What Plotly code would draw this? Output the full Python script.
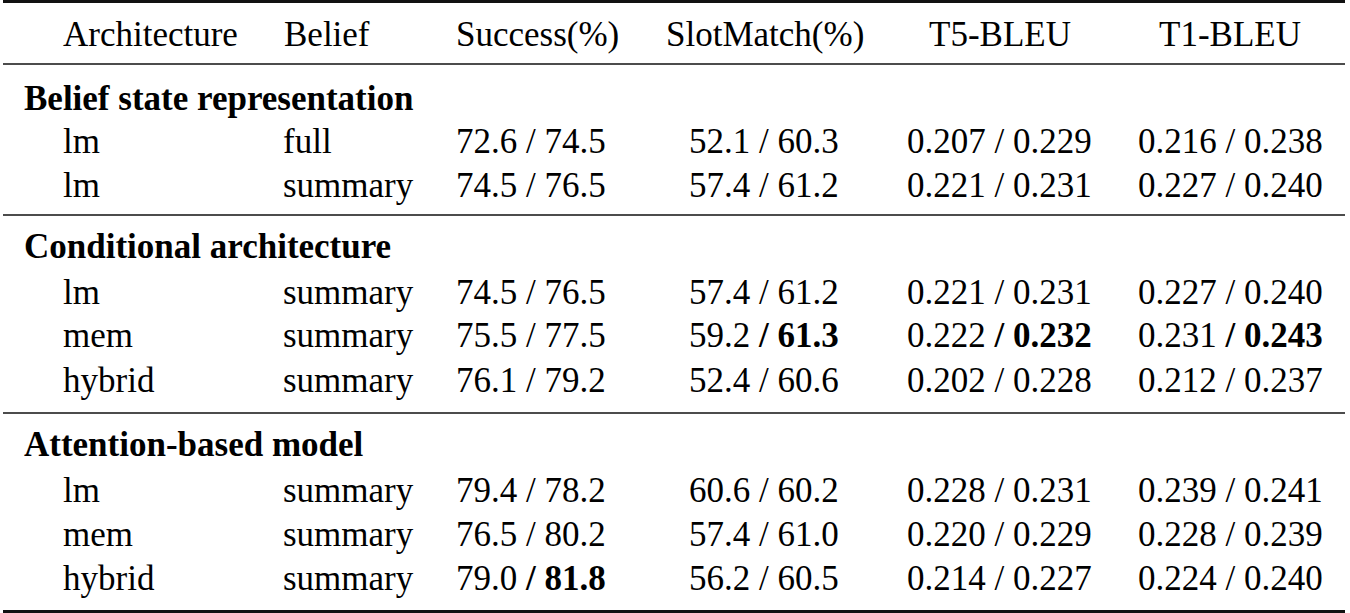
import plotly.graph_objects as go

# ---- data ----
headers = ["Architecture", "Belief", "Success(%)", "SlotMatch(%)", "T5-BLEU", "T1-BLEU"]
sections = ["Belief state representation", "Conditional architecture", "Attention-based model"]
section_of_row = [0, 0, 1, 1, 1, 2, 2, 2]
arch = ["lm", "lm", "lm", "mem", "hybrid", "lm", "mem", "hybrid"]
belief = ["full", "summary", "summary", "summary", "summary", "summary", "summary", "summary"]
success_a = [72.6, 74.5, 74.5, 75.5, 76.1, 79.4, 76.5, 79.0]
success_b = [74.5, 76.5, 76.5, 77.5, 79.2, 78.2, 80.2, 81.8]
slot_a = [52.1, 57.4, 57.4, 59.2, 52.4, 60.6, 57.4, 56.2]
slot_b = [60.3, 61.2, 61.2, 61.3, 60.6, 60.2, 61.0, 60.5]
t5_a = [0.207, 0.221, 0.221, 0.222, 0.202, 0.228, 0.220, 0.214]
t5_b = [0.229, 0.231, 0.231, 0.232, 0.228, 0.231, 0.229, 0.227]
t1_a = [0.216, 0.227, 0.227, 0.231, 0.212, 0.239, 0.228, 0.224]
t1_b = [0.238, 0.240, 0.240, 0.243, 0.237, 0.241, 0.239, 0.240]
# rows whose second value is bold, per metric column
bold_success = [7]
bold_slot = [3]
bold_t5 = [3]
bold_t1 = [3]

# ---- layout constants ----
W, H = 1350, 613
FONT = "Liberation Serif, Times New Roman, serif"
FS = 35
header_y = 34
section_y = [98, 246, 444]
row_y = [141, 185, 292, 335, 380, 490, 534, 578]
col_x = [61, 281, 454, 764, 999, 1230]
col_anchor = ["left", "left", "left", "center", "center", "center"]
head_x = [61, 282, 454, 765, 1000, 1230]
sec_x = 22


def pair(a, b, fmt, bold):
    sa = format(a, fmt)
    sb = format(b, fmt)
    if bold:
        return f"{sa} <b>/ {sb}</b>"
    return f"{sa} / {sb}"


annotations = []


def add(x, y, text, anchor):
    annotations.append(dict(
        x=x, y=y, xref="x", yref="y", text=text, showarrow=False,
        xanchor=anchor, yanchor="middle",
        font=dict(family=FONT, size=FS, color="black"),
    ))


for i, h in enumerate(headers):
    add(head_x[i], header_y, h, col_anchor[i])

for s, name in enumerate(sections):
    add(sec_x, section_y[s], f"<b>{name}</b>", "left")

for r in range(len(arch)):
    y = row_y[r]
    cells = [
        arch[r],
        belief[r],
        pair(success_a[r], success_b[r], ".1f", r in bold_success),
        pair(slot_a[r], slot_b[r], ".1f", r in bold_slot),
        pair(t5_a[r], t5_b[r], ".3f", r in bold_t5),
        pair(t1_a[r], t1_b[r], ".3f", r in bold_t1),
    ]
    for c, t in enumerate(cells):
        add(col_x[c], y, t, col_anchor[c])

# rules
rules = [(1.5, 3), (64, 1.5), (215, 1.5), (413, 1.5), (611.5, 3)]
shapes = []
for y, w in rules:
    shapes.append(dict(type="line", xref="x", yref="y", x0=3, x1=1345, y0=y, y1=y,
                       line=dict(color="#111111", width=w)))

fig = go.Figure()
fig.update_layout(
    width=W, height=H, margin=dict(l=0, r=0, t=0, b=0),
    paper_bgcolor="white", plot_bgcolor="white",
    xaxis=dict(range=[0, W], visible=False, fixedrange=True),
    yaxis=dict(range=[H, 0], visible=False, fixedrange=True),
    annotations=annotations, shapes=shapes, showlegend=False,
)
fig.write_html(
    "out.html",
    config={"displayModeBar": False},
    post_script="document.body.style.margin='0';document.body.style.overflow='hidden';",
)
